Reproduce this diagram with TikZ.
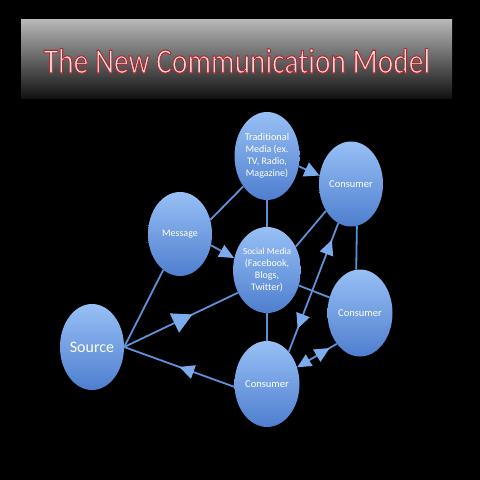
\documentclass[tikz,border=0pt]{standalone}
\usepackage{fontspec}
\setmainfont[Ligatures=NoCommon]{Carlito}
\usetikzlibrary{arrows.meta,decorations.markings,shapes.geometric}
\definecolor{linec}{RGB}{95,145,215}
\definecolor{tipc}{RGB}{125,172,238}
\definecolor{ellA}{RGB}{152,192,246}
\definecolor{ellB}{RGB}{78,126,206}
\definecolor{barA}{RGB}{185,185,185}
\definecolor{barM}{RGB}{125,125,125}
\definecolor{barB}{RGB}{18,18,18}
\definecolor{ttlfill}{RGB}{253,222,222}
\newcommand{\ttltext}{\fontsize{35.5}{40}\selectfont\scalebox{0.83}[1]{%
  \special{pdf:literal direct 0.68 0.17 0.2 RG 1.1 w 1 J 1 j 2 Tr}The New Communication Model\special{pdf:literal direct 0 Tr}}}
\tikzset{
  ell/.style={ellipse, inner sep=0pt, draw=none, top color=ellA, bottom color=ellB,
    text=white, align=center, minimum width=65pt, minimum height=86pt},
  conn/.style={draw=linec, line width=1.8pt},
  arrowat/.style={postaction={decorate}, decoration={markings,
    mark=at position #1 with {\arrow{Triangle[length=15pt,width=14pt,fill=tipc,color=tipc]}}}},
  bigarrowat/.style={postaction={decorate}, decoration={markings,
    mark=at position #1 with {\arrow{Triangle[length=20pt,width=21pt,fill=tipc,color=tipc]}}}},
  twowayat/.style 2 args={postaction={decorate}, decoration={markings,
    mark=at position #1 with {\arrowreversed{Triangle[length=15pt,width=14pt,fill=tipc,color=tipc]}},
    mark=at position #2 with {\arrow{Triangle[length=15pt,width=14pt,fill=tipc,color=tipc]}}}},
  ttlstyle/.style={anchor=base, inner sep=0pt, text=ttlfill},
}
\begin{document}
\begin{tikzpicture}[x=1pt,y=-1pt]
\fill[black] (0,0) rectangle (480,480);
\useasboundingbox (0,0) rectangle (480,480);
% title bar
\node[name=bar, draw=none, inner sep=0pt, minimum width=431pt, minimum height=79pt,
  shading=axis, top color=barA, middle color=barM, bottom color=barB] at (236.5,58.5) {};
\node[ttlstyle, name=ttl] at (237,73) {\ttltext};
% nodes
\node[ell, name=trad, minimum height=88pt] at (267,156)
  {\fontsize{10.3}{15}\selectfont Traditional\\Media (ex.\\TV, Radio,\\Magazine)};
\node[ell, name=ctop, minimum height=85pt, minimum width=64pt] at (351,184)
  {\fontsize{10.5}{12}\selectfont Consumer};
\node[ell, name=msg, minimum height=84pt, minimum width=64pt] at (180,234)
  {\fontsize{10}{12}\selectfont Message};
\node[ell, name=soc, minimum width=64pt] at (267,270)
  {\fontsize{9.3}{14}\selectfont Social Media\\(Facebook,\\Blogs,\\Twitter)};
\node[ell, name=cright, minimum height=87pt] at (360,313)
  {\fontsize{10.5}{12}\selectfont Consumer};
\node[ell, name=cbot] at (267,384)
  {\fontsize{10.5}{12}\selectfont Consumer};
\node[ell, name=src, minimum width=64pt] at (92,347)
  {\fontsize{16}{18}\selectfont Source};
% connectors
\draw[conn] (src.east) -- (msg.-115);
\draw[conn, bigarrowat=0.6] (src.east) -- (soc.-142);
\draw[conn, arrowat=0.5] (cbot.185) -- (src.east);
\draw[conn, -{Triangle[length=15pt,width=13pt,fill=tipc,color=tipc]}] (msg.-20) -- (soc.160);
\draw[conn] (msg.25) -- (trad.-128);
\draw[conn, -{Triangle[length=15pt,width=15pt,fill=tipc,color=tipc]}] (trad.-18) -- (ctop.165);
\draw[conn] (trad.south) -- (soc.north);
\draw[conn] (soc.39) -- (ctop.-133);
\draw[conn] (ctop.-82) -- (cright.95);
\draw[conn] (soc.-26) -- (cright.153);
\draw[conn] (soc.south) -- (cbot.north);
\draw[conn, twowayat={0.18}{0.87}] (cbot.56) -- (ctop.-108);
\draw[conn, arrowat=0.82, {Triangle[length=14pt,width=13pt,fill=tipc,color=tipc]}-] (cbot.29) -- (cright.-127);
\end{tikzpicture}
\end{document}
